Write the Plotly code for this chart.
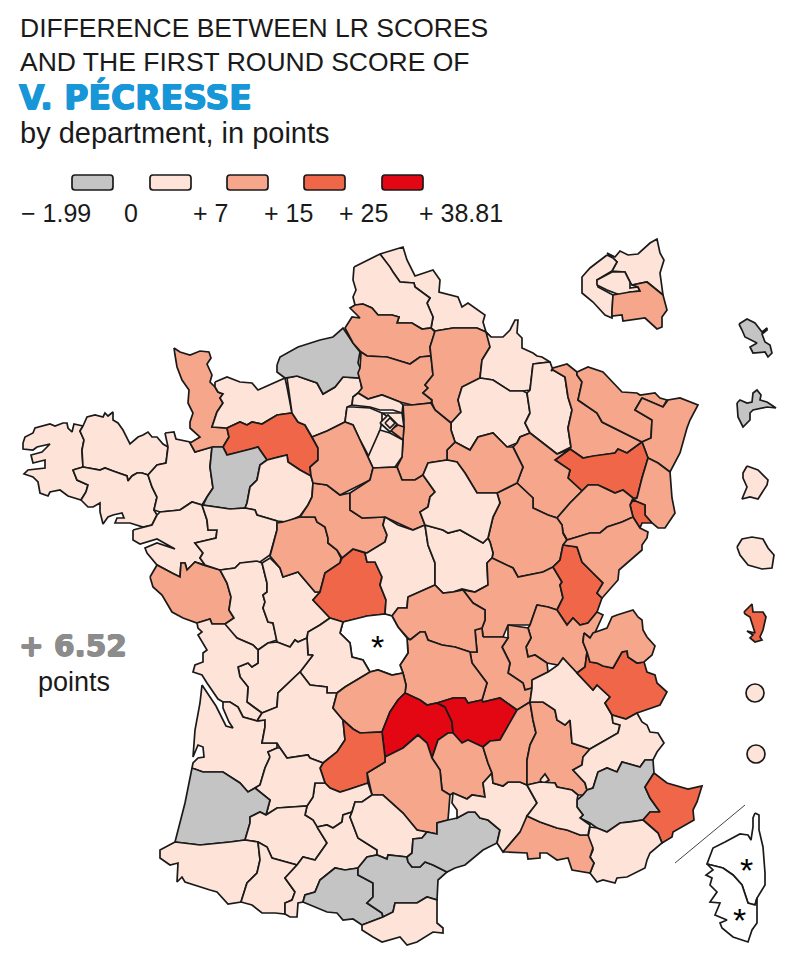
import plotly.graph_objects as go

# colour classes of the map, lowest to highest
BIN_COLORS = ["#C4C4C4", "#FDE3D8", "#F5A68B", "#EF6748", "#E30613"]
NO_DATA = "#FFFFFF"
LEGEND_LABELS = ["− 1.99", "0", "+ 7", "+ 15", "+ 25", "+ 38.81"]
LEGEND_LABEL_X = [20, 123, 192, 263, 338, 418]
LEGEND_BOX_X = [72, 150, 227, 304, 382]

# department outlines
OUTLINES = {
    "Finistère": [(23,443),(25,437),(33,433),(35,428),(50,424),(55,426),(63,423),(67,423),(68,428),(72,432),(74,424),(83,426),(80,431),(84,440),(82,450),(83,467),(73,470),(77,480),(88,485),(86,492),(81,500),(68,496),(60,490),(50,492),(48,496),(40,493),(38,482),(33,477),(24,474),(28,470),(45,468),(45,460),(33,463),(31,455),(42,452),(50,444),(37,447),(33,450),(23,449)],
    "Côtes-d'Armor": [(83,426),(87,417),(95,415),(103,417),(105,413),(108,416),(113,412),(113,420),(118,423),(123,430),(130,444),(138,437),(143,435),(148,432),(152,437),(157,437),(163,444),(168,447),(166,463),(157,465),(148,475),(142,473),(137,473),(132,476),(128,481),(127,476),(113,471),(105,468),(100,470),(83,467),(82,450),(84,440),(80,431)],
    "Morbihan": [(73,470),(83,467),(100,470),(105,468),(113,471),(127,476),(128,481),(132,476),(137,473),(142,473),(148,475),(152,487),(157,497),(154,510),(157,515),(152,525),(143,527),(130,523),(115,523),(117,518),(124,518),(122,513),(113,515),(108,517),(103,524),(100,512),(100,503),(93,507),(88,507),(83,502),(81,500),(86,492),(88,485),(77,480)],
    "Ille-et-Vilaine": [(165,433),(174,432),(176,439),(190,442),(195,452),(212,447),(210,467),(213,488),(207,497),(202,505),(192,502),(180,510),(160,512),(154,510),(157,497),(152,487),(148,475),(157,465),(166,463),(168,447)],
    "Manche": [(174,348),(180,352),(190,355),(200,351),(209,352),(211,358),(207,364),(212,375),(210,382),(215,387),(218,392),(223,394),(220,398),(223,403),(217,412),(212,427),(227,428),(229,437),(223,447),(212,447),(195,452),(190,443),(200,437),(190,428),(190,422),(193,413),(188,403),(189,390),(182,380),(177,367),(175,355)],
    "Calvados": [(215,382),(227,377),(240,382),(252,383),(258,390),(273,383),(285,378),(287,387),(292,413),(277,415),(262,424),(252,422),(247,425),(240,422),(227,428),(212,427),(217,412),(223,403),(220,398),(223,394),(218,392),(215,387)],
    "Orne": [(227,428),(240,422),(247,425),(252,422),(262,424),(277,415),(292,413),(298,422),(305,425),(312,437),(318,448),(318,460),(310,467),(311,476),(300,470),(288,462),(287,455),(278,457),(267,460),(260,450),(258,447),(248,450),(227,455),(223,447),(229,437)],
    "Mayenne": [(212,447),(223,447),(227,455),(248,450),(258,447),(260,450),(267,460),(260,465),(257,480),(250,487),(247,503),(245,508),(230,509),(217,507),(203,505),(207,497),(213,488),(210,467)],
    "Sarthe": [(267,460),(278,457),(287,455),(288,462),(300,470),(311,476),(313,483),(312,497),(308,505),(300,516),(287,522),(277,521),(263,517),(257,515),(255,510),(245,508),(247,503),(250,487),(257,480),(260,465)],
    "Eure": [(287,378),(297,376),(317,383),(323,394),(335,387),(343,377),(360,378),(362,390),(353,397),(352,405),(347,407),(345,422),(327,431),(312,437),(305,425),(298,422),(292,413)],
    "Seine-Maritime": [(277,365),(280,357),(298,347),(320,340),(333,337),(343,328),(353,343),(360,352),(358,363),(362,372),(360,378),(343,377),(335,387),(323,394),(317,383),(297,376),(285,378),(277,372)],
    "Loire-Atlantique": [(133,530),(143,527),(152,525),(157,515),(160,512),(180,510),(192,502),(202,505),(207,520),(208,530),(217,530),(216,538),(195,543),(203,553),(200,558),(205,565),(195,562),(187,570),(185,563),(181,563),(180,577),(172,573),(157,565),(147,553),(145,548),(157,543),(175,549),(157,539),(140,544),(133,540)],
    "Vendée": [(150,577),(157,565),(172,573),(180,577),(181,563),(185,563),(187,570),(195,562),(203,565),(220,570),(227,583),(231,597),(229,610),(234,618),(225,624),(212,624),(210,619),(197,623),(183,618),(172,612),(162,595),(153,587)],
    "Maine-et-Loire": [(202,505),(217,507),(230,509),(245,508),(255,510),(257,515),(263,517),(277,521),(277,530),(270,555),(260,562),(240,563),(235,568),(220,570),(205,565),(200,558),(203,553),(195,543),(216,538),(217,530),(208,530),(207,520)],
    "Deux-Sèvres": [(220,570),(235,568),(240,563),(257,561),(262,563),(267,583),(267,592),(263,595),(265,602),(263,608),(268,622),(273,623),(277,640),(268,643),(258,650),(253,645),(237,638),(223,627),(225,624),(234,618),(229,610),(231,597),(227,583)],
    "Vienne": [(262,563),(270,558),(280,568),(283,577),(298,572),(315,592),(320,592),(313,600),(330,618),(320,625),(308,632),(307,638),(298,642),(295,640),(290,647),(277,642),(273,623),(268,622),(263,608),(265,602),(263,595),(267,592),(267,583)],
    "Indre-et-Loire": [(277,523),(283,522),(300,517),(315,517),(317,522),(325,527),(328,538),(328,543),(337,550),(341,558),(340,563),(325,573),(320,592),(315,592),(298,572),(283,577),(280,568),(270,556),(277,530)],
    "Indre": [(342,558),(353,549),(365,553),(367,562),(375,562),(382,577),(380,585),(386,600),(385,614),(367,616),(360,618),(343,622),(330,618),(313,600),(320,592),(325,573),(340,563)],
    "Loir-et-Cher": [(300,517),(308,505),(312,497),(313,483),(327,485),(340,495),(350,493),(350,510),(362,518),(385,517),(383,525),(385,530),(387,535),(385,542),(367,553),(353,549),(342,558),(337,550),(328,543),(328,538),(325,527),(317,522),(315,517)],
    "Nord": [(380,254),(403,247),(407,260),(415,276),(433,270),(440,280),(439,292),(458,297),(462,307),(468,303),(485,315),(483,322),(486,332),(477,328),(453,328),(435,331),(431,328),(433,317),(427,303),(430,298),(415,287),(414,283),(400,282),(393,272),(390,267)],
    "Pas-de-Calais": [(354,267),(380,254),(390,267),(393,272),(400,282),(414,283),(415,287),(430,298),(427,303),(433,317),(431,328),(422,329),(412,323),(397,323),(399,317),(392,315),(378,315),(372,308),(363,304),(355,305),(353,297),(356,290),(353,280)],
    "Somme": [(355,305),(363,304),(372,308),(378,315),(392,315),(399,317),(397,323),(412,323),(422,329),(431,328),(435,332),(430,347),(431,356),(420,357),(410,364),(387,357),(367,356),(361,352),(353,343),(345,328),(352,317),(360,318),(350,308)],
    "Oise": [(361,352),(367,356),(387,357),(410,364),(420,357),(431,356),(433,375),(425,385),(428,388),(423,393),(432,400),(431,403),(412,405),(400,402),(382,395),(368,399),(358,393),(362,388),(358,373),(360,368)],
    "Aisne": [(435,331),(453,328),(477,328),(486,332),(491,337),(490,347),(482,360),(480,378),(462,387),(458,400),(461,412),(451,423),(435,410),(432,403),(432,400),(423,393),(428,388),(425,385),(433,375),(431,356),(430,347)],
    "Ardennes": [(486,332),(491,337),(503,337),(510,330),(515,320),(518,320),(517,333),(522,338),(522,348),(533,353),(537,356),(542,357),(550,362),(533,364),(530,390),(523,391),(510,391),(493,380),(480,378),(482,360),(490,347)],
    "Marne": [(480,378),(493,380),(510,391),(523,391),(527,393),(530,413),(525,423),(530,433),(520,437),(517,443),(507,447),(493,433),(478,437),(470,450),(455,442),(451,430),(451,423),(461,412),(458,400),(462,387)],
    "Meuse": [(533,364),(550,362),(553,370),(565,377),(568,397),(572,410),(568,428),(571,447),(557,454),(530,433),(525,423),(530,413),(527,393),(530,390)],
    "Meurthe-et-Moselle": [(551,371),(553,368),(567,364),(577,372),(577,375),(582,382),(578,400),(597,413),(602,422),(642,442),(627,453),(618,449),(615,453),(593,456),(583,458),(570,449),(571,447),(568,428),(572,410),(568,397),(565,377),(553,370)],
    "Moselle": [(577,372),(588,367),(603,372),(612,382),(622,392),(637,393),(640,395),(655,393),(660,398),(667,400),(663,407),(642,398),(635,410),(652,420),(651,438),(642,442),(602,422),(597,413),(578,400),(582,382),(577,375)],
    "Bas-Rhin": [(642,398),(663,407),(668,400),(680,398),(698,405),(690,420),(687,428),(680,453),(670,472),(658,463),(648,458),(642,442),(651,438),(652,420),(635,410)],
    "Vosges": [(555,460),(570,449),(583,458),(593,456),(615,453),(618,449),(627,453),(642,442),(648,458),(642,478),(637,498),(633,498),(623,490),(615,493),(607,489),(598,485),(588,485),(582,491),(568,478),(570,470)],
    "Haut-Rhin": [(648,458),(658,463),(670,472),(672,498),(675,513),(665,528),(658,528),(652,523),(645,515),(645,505),(633,500),(637,498),(642,478)],
    "Territoire de Belfort": [(633,500),(645,505),(645,515),(652,523),(642,523),(640,528),(633,517),(630,505)],
    "Haute-Marne": [(530,433),(557,454),(570,449),(555,460),(570,470),(568,478),(582,491),(570,503),(557,518),(548,515),(533,508),(533,498),(517,483),(523,467),(513,447),(517,443),(520,437)],
    "Haute-Saône": [(582,491),(588,485),(598,485),(607,489),(615,493),(623,490),(633,498),(630,505),(633,517),(622,522),(607,527),(600,533),(590,533),(567,540),(563,533),(562,525),(557,518),(570,503)],
    "Côte-d'Or": [(517,483),(533,498),(533,508),(548,515),(557,518),(562,525),(563,533),(567,540),(563,545),(560,560),(553,567),(543,572),(518,577),(513,568),(492,558),(493,553),(490,542),(488,538),(493,517),(500,503),(497,493)],
    "Aube": [(455,442),(470,450),(478,437),(493,433),(507,447),(513,447),(523,467),(517,483),(497,493),(477,493),(465,473),(457,462),(447,460),(447,450)],
    "Seine-et-Marne": [(403,405),(412,405),(431,403),(435,410),(451,423),(451,430),(455,442),(447,450),(447,460),(428,463),(423,475),(415,480),(402,480),(397,467),(402,457),(403,440),(404,420)],
    "Val-d'Oise": [(358,393),(368,399),(382,395),(400,402),(403,405),(402,413),(393,410),(380,410),(370,407),(352,405),(353,397)],
    "Yvelines": [(347,407),(353,407),(370,408),(382,413),(382,422),(380,430),(370,457),(368,455),(360,440),(353,425),(345,422)],
    "Petite couronne": [(382,413),(402,413),(404,427),(392,427),(390,418)],
    "Petite couronne sud": [(390,430),(398,425),(404,427),(403,440)],
    "Couronne ouest": [(380,423),(388,415),(397,424),(390,432)],
    "Paris carré": [(385,423),(390,418),(395,423),(390,428)],
    "Essonne": [(380,430),(390,433),(403,440),(402,457),(395,467),(373,468),(368,457)],
    "Eure-et-Loir": [(312,437),(327,431),(345,422),(353,425),(360,440),(368,457),(373,468),(370,480),(350,490),(340,495),(327,485),(313,483),(311,476),(310,467),(318,460),(318,448)],
    "Loiret": [(350,493),(370,480),(373,468),(395,467),(397,467),(402,480),(415,480),(423,475),(435,492),(430,497),(428,507),(420,512),(425,525),(413,530),(385,517),(362,518),(350,510)],
    "Cher": [(385,517),(398,525),(413,530),(425,525),(428,545),(435,563),(435,585),(408,597),(407,608),(398,608),(392,616),(385,614),(386,600),(380,585),(382,577),(375,562),(367,562),(365,553),(367,553),(385,542),(387,535),(385,530),(383,525)],
    "Nièvre": [(425,525),(443,530),(448,533),(460,530),(483,543),(488,538),(490,542),(493,553),(492,558),(487,563),(488,585),(475,592),(462,589),(453,592),(443,593),(435,585),(435,563),(428,545)],
    "Yonne": [(423,475),(428,463),(447,460),(457,462),(465,473),(477,493),(497,493),(500,503),(493,517),(488,538),(483,543),(460,530),(448,533),(443,530),(425,525),(420,512),(428,507),(430,497),(435,492)],
    "Saône-et-Loire": [(463,590),(475,592),(488,585),(487,563),(492,558),(513,568),(518,577),(543,572),(553,567),(562,582),(560,585),(563,598),(557,610),(548,607),(537,605),(530,625),(508,625),(503,637),(483,637),(482,628),(485,620),(485,610),(473,603)],
    "Jura": [(563,545),(577,547),(582,562),(592,572),(603,583),(597,593),(602,598),(597,612),(588,623),(580,625),(573,618),(567,625),(557,610),(563,598),(560,585),(562,582),(553,567),(560,560)],
    "Doubs": [(563,533),(567,540),(590,533),(600,533),(607,527),(622,522),(633,517),(640,528),(648,532),(647,538),(642,545),(642,550),(619,570),(618,580),(603,597),(602,598),(597,593),(603,583),(592,572),(582,562),(577,547),(563,545),(567,540)],
    "Ain": [(537,605),(548,607),(557,610),(567,625),(573,618),(580,625),(588,623),(597,612),(603,615),(593,637),(590,638),(584,633),(583,642),(587,652),(585,667),(577,673),(563,658),(558,665),(547,663),(535,655),(528,657),(526,647),(531,638),(528,628),(530,625)],
    "Rhône": [(508,625),(528,628),(531,638),(526,647),(528,657),(535,655),(547,663),(548,672),(532,680),(532,688),(525,690),(523,683),(508,673),(510,663),(502,647),(508,638)],
    "Loire": [(483,637),(503,637),(508,638),(502,647),(510,663),(508,673),(523,683),(525,690),(532,688),(530,702),(517,710),(500,698),(483,702),(482,700),(487,683),(472,663),(470,652),(477,652),(475,630),(482,628)],
    "Allier": [(408,597),(435,585),(443,593),(453,592),(463,590),(473,603),(485,610),(485,620),(482,628),(475,630),(477,652),(470,652),(455,647),(442,645),(428,640),(425,632),(420,632),(410,640),(407,637),(398,627),(392,616),(398,608),(407,608)],
    "Puy-de-Dôme": [(410,640),(420,632),(425,632),(428,640),(442,645),(455,647),(470,652),(472,663),(487,683),(482,700),(468,703),(465,698),(453,698),(437,703),(427,705),(420,700),(405,693),(406,685),(403,673),(400,665),(408,653),(407,638)],
    "Creuse": [(343,622),(360,618),(367,616),(385,614),(392,616),(398,627),(407,638),(408,653),(400,665),(403,673),(392,675),(378,670),(370,672),(363,660),(352,657),(350,643),(340,633)],
    "Haute-Vienne": [(330,618),(343,622),(340,633),(350,643),(352,657),(363,660),(370,672),(345,687),(337,693),(327,693),(327,687),(310,685),(300,672),(313,655),(308,655),(307,638),(308,632),(320,625)],
    "Charente": [(258,650),(268,643),(277,642),(290,647),(295,640),(298,642),(307,638),(308,655),(313,655),(300,672),(278,693),(277,707),(262,713),(255,708),(247,702),(248,687),(240,677),(238,667),(248,663),(252,667),(258,663)],
    "Charente-Maritime": [(197,623),(210,619),(212,624),(225,624),(237,638),(253,645),(258,650),(258,663),(252,667),(248,663),(238,667),(240,677),(248,687),(247,702),(255,708),(262,713),(257,721),(243,717),(238,707),(230,702),(223,702),(218,699),(207,683),(202,675),(193,672),(195,665),(203,662),(203,653),(207,650),(198,635),(202,632),(198,628)],
    "Gironde": [(202,685),(216,706),(226,726),(233,728),(229,722),(223,708),(223,702),(230,702),(238,707),(243,717),(257,721),(265,720),(265,727),(262,743),(277,743),(277,748),(268,752),(270,757),(265,768),(260,785),(255,788),(248,792),(240,783),(223,772),(203,772),(192,768),(193,763),(198,758),(204,757),(203,747),(198,745),(193,757),(195,730),(200,703)],
    "Dordogne": [(262,713),(277,707),(278,693),(300,672),(310,685),(327,687),(327,693),(337,693),(333,708),(343,720),(345,740),(337,752),(323,763),(310,758),(308,755),(287,758),(280,748),(277,743),(262,743),(265,727),(265,720),(257,721)],
    "Corrèze": [(337,693),(345,687),(370,672),(378,670),(392,675),(403,673),(406,685),(405,693),(398,700),(390,712),(382,732),(360,733),(353,729),(343,720),(333,708)],
    "Cantal": [(398,700),(405,693),(420,700),(427,705),(437,703),(445,707),(452,722),(453,733),(448,733),(438,740),(432,758),(427,743),(418,735),(403,748),(385,757),(382,732),(390,712)],
    "Haute-Loire": [(437,703),(453,698),(465,698),(468,703),(482,700),(483,702),(500,698),(517,710),(510,723),(500,740),(490,741),(483,747),(468,740),(462,743),(453,733),(452,722),(445,707)],
    "Lozère": [(432,758),(438,740),(448,733),(453,733),(462,743),(468,740),(483,747),(488,763),(492,773),(483,783),(485,797),(472,795),(467,799),(453,793),(450,795),(442,790),(440,770)],
    "Aveyron": [(385,757),(403,748),(418,735),(427,743),(432,758),(440,770),(442,790),(450,795),(448,820),(437,823),(437,834),(427,832),(417,830),(403,813),(383,795),(372,795),(370,785),(367,773),(385,762)],
    "Lot": [(343,720),(353,729),(360,733),(382,732),(385,757),(385,762),(367,773),(368,783),(347,790),(340,792),(330,788),(325,783),(320,768),(323,763),(337,752),(345,740)],
    "Tarn-et-Garonne": [(315,783),(325,783),(330,788),(340,792),(347,790),(368,783),(372,795),(362,802),(355,802),(352,812),(343,815),(342,822),(333,828),(327,825),(317,827),(313,820),(305,815),(307,806),(313,797)],
    "Lot-et-Garonne": [(270,757),(265,768),(260,785),(255,788),(270,800),(266,815),(277,808),(307,806),(313,797),(315,783),(325,783),(320,768),(323,763),(310,758),(308,755),(287,758),(280,748),(277,748),(268,752)],
    "Landes": [(192,768),(203,772),(223,772),(240,783),(248,792),(255,788),(270,800),(266,815),(260,812),(250,817),(250,823),(245,840),(230,842),(200,845),(175,842),(185,803)],
    "Gers": [(245,840),(250,823),(250,817),(260,812),(266,815),(277,808),(307,806),(305,815),(313,820),(317,827),(327,843),(315,860),(303,857),(297,865),(272,858),(267,847),(258,842)],
    "Pyrénées-Atlantiques": [(175,842),(200,845),(230,842),(245,840),(258,842),(260,860),(257,873),(247,883),(241,902),(228,904),(217,892),(210,890),(185,882),(182,877),(177,882),(178,863),(170,865),(160,858),(160,850)],
    "Hautes-Pyrénées": [(258,842),(267,847),(272,858),(297,865),(285,878),(295,892),(292,900),(285,903),(285,914),(275,913),(262,913),(252,905),(241,902),(247,883),(257,873),(260,860)],
    "Haute-Garonne": [(317,827),(327,825),(333,828),(342,822),(343,815),(352,812),(350,817),(358,838),(377,850),(377,855),(367,857),(358,868),(345,870),(335,868),(320,880),(315,892),(305,895),(303,902),(298,903),(297,917),(290,917),(285,914),(285,903),(292,900),(295,892),(285,878),(297,865),(303,857),(315,860),(327,843)],
    "Tarn": [(352,812),(355,802),(362,802),(372,795),(383,795),(403,813),(417,830),(427,832),(422,838),(413,839),(412,853),(407,857),(388,855),(387,859),(377,855),(377,850),(358,838),(350,817)],
    "Ariège": [(358,868),(358,875),(373,883),(373,897),(367,903),(382,913),(383,917),(362,925),(353,919),(343,920),(337,913),(327,912),(303,902),(305,895),(315,892),(320,880),(335,868),(345,870)],
    "Aude": [(358,868),(367,857),(377,855),(387,859),(388,855),(407,857),(408,862),(412,867),(420,867),(425,862),(433,865),(447,872),(438,880),(437,900),(427,897),(417,903),(395,903),(393,912),(383,917),(382,913),(367,903),(373,897),(373,883),(358,875)],
    "Pyrénées-Orientales": [(362,925),(383,917),(393,912),(395,903),(417,903),(427,897),(437,900),(437,923),(443,928),(443,933),(433,932),(417,942),(407,945),(400,937),(382,942),(373,937),(362,930)],
    "Hérault": [(448,820),(457,818),(468,812),(475,812),(480,818),(488,820),(500,830),(497,843),(483,850),(465,865),(455,868),(447,872),(433,865),(425,862),(420,867),(412,867),(408,862),(407,857),(412,853),(413,839),(422,838),(427,832),(437,834),(437,823)],
    "Gard": [(453,793),(467,799),(472,795),(485,797),(483,783),(492,773),(493,783),(503,786),(508,782),(520,782),(527,785),(537,803),(527,816),(525,832),(520,832),(503,852),(497,843),(500,830),(488,820),(480,818),(475,812),(468,812),(457,818),(457,810),(452,803)],
    "Ardèche": [(483,747),(490,741),(500,740),(510,723),(517,710),(530,702),(533,720),(536,733),(530,745),(527,760),(527,785),(520,782),(508,782),(503,786),(493,783),(492,773),(488,763)],
    "Drôme": [(530,702),(543,702),(555,710),(557,720),(565,725),(570,720),(572,743),(590,749),(583,757),(582,765),(573,770),(580,777),(585,783),(587,790),(583,795),(578,795),(572,790),(557,787),(555,783),(540,782),(527,785),(527,760),(530,745),(536,733),(533,720)],
    "Enclave": [(540,780),(545,774),(549,780),(543,784)],
    "Isère": [(532,680),(548,672),(558,665),(563,658),(577,673),(593,690),(597,685),(610,697),(605,703),(612,715),(613,723),(620,725),(618,733),(590,749),(572,743),(570,720),(565,725),(557,720),(555,710),(543,702),(530,702),(532,688)],
    "Savoie": [(587,652),(590,662),(597,663),(603,666),(613,668),(622,652),(627,651),(628,657),(637,663),(644,662),(647,672),(655,675),(657,683),(667,692),(660,705),(637,713),(626,719),(612,715),(605,703),(610,697),(597,685),(593,690),(577,673),(585,667)],
    "Haute-Savoie": [(584,633),(590,638),(593,633),(607,628),(612,617),(617,615),(633,610),(638,617),(642,620),(643,630),(647,637),(655,646),(652,655),(644,662),(637,663),(628,657),(627,651),(622,652),(613,668),(603,666),(597,663),(590,662),(587,652),(583,642)],
    "Hautes-Alpes": [(613,723),(620,725),(618,733),(590,749),(583,757),(582,765),(573,770),(580,777),(585,783),(587,790),(593,788),(598,772),(607,768),(617,772),(622,762),(640,767),(645,760),(653,760),(657,752),(664,743),(658,733),(650,732),(647,725),(642,722),(637,713),(626,719),(612,715)],
    "Alpes-de-Haute-Provence": [(577,800),(583,795),(587,790),(593,788),(598,772),(607,768),(617,772),(622,762),(640,767),(645,760),(653,760),(654,773),(645,787),(650,798),(660,812),(650,812),(643,820),(630,822),(620,823),(607,832),(597,828),(590,823),(580,818),(583,815),(577,807)],
    "Alpes-Maritimes": [(654,773),(667,783),(688,789),(702,786),(697,802),(693,810),(694,820),(673,832),(672,837),(662,843),(658,833),(643,820),(650,812),(660,812),(650,798),(645,787)],
    "Var": [(590,827),(597,828),(607,832),(620,823),(630,822),(643,820),(658,833),(662,843),(650,853),(647,860),(645,868),(627,877),(617,878),(615,883),(603,880),(597,882),(590,873),(594,863),(590,857),(593,850),(588,837)],
    "Bouches-du-Rhône": [(503,852),(520,832),(527,816),(540,822),(557,828),(567,830),(580,835),(588,835),(593,848),(590,857),(594,863),(590,873),(572,870),(568,858),(557,860),(547,853),(540,853),(540,858),(528,859),(527,853),(507,852)],
    "Vaucluse": [(527,785),(540,782),(555,783),(557,787),(572,790),(578,795),(577,800),(577,807),(583,815),(580,818),(590,825),(588,835),(580,835),(567,830),(557,828),(540,822),(527,816),(537,803)],
    "Haute-Corse": [(755,813),(759,815),(759,830),(763,847),(765,873),(765,885),(757,898),(755,905),(748,903),(742,885),(733,875),(723,868),(707,864),(713,848),(725,842),(740,834),(748,835),(751,840),(753,827),(753,818)],
    "Corse-du-Sud": [(707,864),(723,868),(733,875),(742,885),(748,903),(755,905),(757,898),(757,923),(752,930),(748,942),(742,940),(733,937),(722,928),(720,923),(727,920),(715,915),(720,903),(710,902),(717,892),(710,885),(712,878),(706,875),(713,870)],
    "Seine-Saint-Denis (zoom)": [(607,253),(615,257),(620,251),(628,255),(638,254),(650,243),(657,239),(660,253),(664,260),(660,273),(663,295),(647,282),(632,285),(630,282),(625,272),(612,271),(617,262),(613,258)],
    "Hauts-de-Seine (zoom)": [(607,255),(613,258),(617,262),(612,271),(597,280),(598,287),(613,295),(612,310),(612,318),(605,315),(593,302),(582,293),(582,277),(590,268)],
    "Paris (zoom)": [(612,272),(625,272),(630,282),(630,288),(638,287),(640,291),(630,292),(620,295),(607,290),(597,285),(597,280)],
    "Val-de-Marne (zoom)": [(613,295),(630,292),(640,291),(638,287),(632,285),(647,282),(663,295),(667,310),(662,317),(662,327),(657,329),(650,323),(645,318),(623,321),(622,315),(612,316),(612,310)],
    "Martinique": [(739,324),(747,319),(755,323),(762,332),(767,328),(767,330),(762,334),(765,342),(770,345),(772,353),(768,357),(765,352),(753,353),(750,347),(757,343),(745,337),(742,330)],
    "Guadeloupe": [(737,403),(740,400),(747,403),(752,402),(753,393),(757,390),(761,395),(760,400),(767,402),(776,408),(767,407),(753,410),(750,413),(750,420),(743,427),(738,417)],
    "Guyane": [(747,466),(758,470),(768,480),(767,485),(758,499),(750,497),(742,499),(747,487),(743,478),(743,473)],
    "La Réunion": [(737,547),(742,539),(752,537),(763,539),(768,548),(774,555),(772,568),(762,569),(748,565),(740,555)],
    "Mayotte": [(744,612),(752,604),(753,612),(763,612),(766,617),(763,630),(760,637),(762,640),(755,642),(750,638),(753,635),(747,631),(755,633),(750,617),(745,614)],
}

# class of each department (index in BIN_COLORS); anything not listed here is class 1
GRAY = ["Seine-Maritime", "Mayenne", "Landes", "Ariège", "Aude", "Hérault", "Alpes-de-Haute-Provence", "Martinique", "Guadeloupe"]
PEACH = ["Manche", "Vendée", "Loir-et-Cher", "Indre-et-Loire", "Somme", "Oise", "Aisne", "Meurthe-et-Moselle", "Moselle", "Bas-Rhin",
         "Haut-Rhin", "Haute-Marne", "Haute-Saône", "Côte-d'Or", "Aube", "Seine-et-Marne", "Eure-et-Loir", "Loiret", "Saône-et-Loire",
         "Doubs", "Ain", "Rhône", "Loire", "Allier", "Puy-de-Dôme", "Corrèze", "Lozère", "Aveyron", "Ardèche", "Drôme", "Haute-Savoie",
         "Bouches-du-Rhône", "Val-de-Marne (zoom)", "Petite couronne sud"]
ORANGE = ["Orne", "Indre", "Vosges", "Territoire de Belfort", "Jura", "Lot", "Savoie", "Alpes-Maritimes", "Mayotte"]
RED = ["Cantal", "Haute-Loire"]
NO_SCORE = ["Creuse", "Haute-Corse", "Corse-du-Sud"]

# the two small territories drawn as dots
DOT_X = [755, 756]
DOT_Y = [693, 754]

ASTERISK_X = [377, 746, 739]
ASTERISK_Y = [641, 864, 914]


def dept_color(name):
    if name in NO_SCORE:
        return NO_DATA
    if name in GRAY:
        return BIN_COLORS[0]
    if name in PEACH:
        return BIN_COLORS[2]
    if name in ORANGE:
        return BIN_COLORS[3]
    if name in RED:
        return BIN_COLORS[4]
    return BIN_COLORS[1]


INK = "#1A1A1A"
fig = go.Figure()

for name, outline in OUTLINES.items():
    xs = [p[0] for p in outline] + [outline[0][0]]
    ys = [p[1] for p in outline] + [outline[0][1]]
    fig.add_trace(go.Scatter(x=xs, y=ys, mode="lines", fill="toself", fillcolor=dept_color(name),
                             line=dict(color=INK, width=1.7), name=name, hoverinfo="name", showlegend=False))

fig.add_trace(go.Scatter(x=DOT_X, y=DOT_Y, mode="markers", showlegend=False, hoverinfo="skip",
                         marker=dict(size=18, color=BIN_COLORS[1], line=dict(color=INK, width=1.7))))

# separator next to Corsica
fig.add_trace(go.Scatter(x=[675, 745], y=[863, 805], mode="lines", showlegend=False, hoverinfo="skip",
                         line=dict(color="#444444", width=1)))


def rounded_box(x0, y0, x1, y1, r=3):
    return (f"M {x0+r} {y0} L {x1-r} {y0} Q {x1} {y0} {x1} {y0+r} L {x1} {y1-r} Q {x1} {y1} {x1-r} {y1} "
            f"L {x0+r} {y1} Q {x0} {y1} {x0} {y1-r} L {x0} {y0+r} Q {x0} {y0} {x0+r} {y0} Z")


shapes = []
for box_x, color in zip(LEGEND_BOX_X, BIN_COLORS):
    shapes.append(dict(type="path", path=rounded_box(box_x, 175, box_x + 41, 190), fillcolor=color,
                       line=dict(color=INK, width=1.7), xref="x", yref="y"))


def label(x, y, text, size, color=INK, anchor="left", family="Liberation Sans", weight=None, heavy=False):
    font = dict(family=family, size=size, color=color)
    if weight:
        font["weight"] = weight
    if heavy:
        # no black weight of the wide face here, a same-colour shadow thickens the bold
        font["shadow"] = f"0.8px 0 {color}, -0.8px 0 {color}, 0 0.5px {color}, 0 -0.5px {color}"
    fig.add_annotation(x=x, y=y, text=text, xref="x", yref="y", showarrow=False, xanchor=anchor, yanchor="middle",
                       font=font, borderpad=0, align="left")


label(19, 28, "DIFFERENCE BETWEEN LR SCORES", 26.5)
label(19, 62, "AND THE FIRST ROUND SCORE OF", 26.5)
label(18, 97, "V. PÉCRESSE", 33, color="#1796D8", family="DejaVu Sans", weight=700, heavy=True)
label(19, 133, "by department, in points", 29)

for x, text in zip(LEGEND_LABEL_X, LEGEND_LABELS):
    label(x, 213, text, 25)

label(18, 646, "+ 6.52", 29.5, color="#8C8C8C", family="DejaVu Sans", weight=700, heavy=True)
label(74, 682, "points", 27, anchor="center")

for x, y in zip(ASTERISK_X, ASTERISK_Y):
    label(x, y + 6, "*", 34, anchor="center", color="#000000")

fig.update_layout(
    width=800, height=967, margin=dict(l=0, r=0, t=0, b=0),
    paper_bgcolor="white", plot_bgcolor="white", shapes=shapes, showlegend=False,
    xaxis=dict(range=[0, 800], visible=False, fixedrange=True),
    yaxis=dict(range=[967, 0], visible=False, fixedrange=True),
)

fig.write_html("out.html", config={"displayModeBar": False},
               post_script="document.body.style.margin='0';")
